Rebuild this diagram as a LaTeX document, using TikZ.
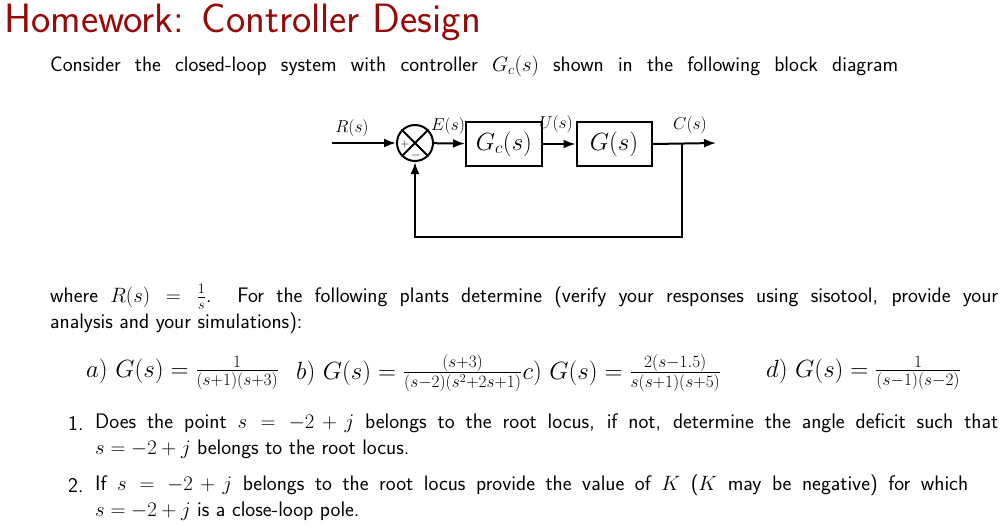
\documentclass[tikz,border=0pt]{standalone}
\usepackage{amsmath}
\usetikzlibrary{arrows.meta}
\definecolor{titlered}{RGB}{150,10,10}
\begin{document}
\begin{tikzpicture}[x=1pt,y=-1pt,
  blk/.style={draw,line width=2pt,minimum width=76pt,minimum height=44pt,inner sep=0pt,font=\fontsize{24}{26}\selectfont},
  sig/.style={line width=2pt,-{Latex[length=12pt,width=9pt]}},
  lbl/.style={font=\fontsize{16}{18}\selectfont,inner sep=0pt},
  txt/.style={anchor=west,inner sep=0pt,font=\fontsize{21}{23}\sffamily\selectfont},
  eqn/.style={anchor=west,inner sep=0pt,font=\fontsize{25}{27}\selectfont}]
\useasboundingbox (0,0) rectangle (1004,525);
\node[anchor=west,inner sep=0pt,text=titlered,font=\fontsize{41}{43}\sffamily\selectfont] (title) at (4,22) {Homework: Controller Design};
\node[txt] (l1) at (50,66) {\hbox to 848pt{Consider the closed-loop system with controller $G_c(s)$ shown in the following block diagram}};
% block diagram
\node[circle,draw,line width=2pt,minimum size=36pt,inner sep=0pt] (sum) at (415,143) {};
\draw[line width=2pt] (sum.north west) -- (sum.south east) (sum.north east) -- (sum.south west);
\node[lbl,font=\fontsize{13}{14}\selectfont] (plus) at (405,144) {$+$};
\node[lbl,font=\fontsize{13}{14}\selectfont] (minus) at (416,155) {$-$};
\node[blk] (gc) at (504,144) {$G_c(s)$};
\node[blk,minimum width=75pt] (g) at (614,144) {$G(s)$};
\coordinate (in) at (332,143);
\coordinate (out) at (716,143);
\coordinate (br) at (682,143);
\coordinate (fb1) at (682,237);
\coordinate (fb2) at (415,237);
\draw[sig] (in) -- (sum);
\draw[sig] (sum) -- (gc);
\draw[sig] (gc) -- (g);
\draw[sig] (g.east) -- (out);
\draw[sig] (br) -- (fb1) -- (fb2) -- (sum.south);
\node[lbl] (rs) at (352,128) {$R(s)$};
\node[lbl] (es) at (448,126) {$E(s)$};
\node[lbl] (us) at (556,124) {$U(s)$};
\node[lbl] (cs) at (690,125) {$C(s)$};
% text
\node[txt] (l2) at (50,297) {\hbox to 948pt{where $R(s)=\frac{1}{s}$. For the following plants determine (verify your responses using sisotool, provide your}};
\node[txt] (l3) at (50,323) {analysis and your simulations):};
\node[eqn] (ea) at (86,373) {$a)\ G(s)=\frac{1}{(s+1)(s+3)}$};
\node[eqn] (eb) at (296,373) {$b)\ G(s)=\frac{(s+3)}{(s-2)(s^2+2s+1)}$};
\node[eqn] (ec) at (eb.east) [anchor=west] {$c)\ G(s)=\frac{2(s-1.5)}{s(s+1)(s+5)}$};
\node[eqn] (ed) at (766,373) {$d)\ G(s)=\frac{1}{(s-1)(s-2)}$};
\node[txt] (n1) at (68,423) {1.};
\node[txt] (i1a) at (95,423) {\hbox to 903pt{Does the point $s=-2+j$ belongs to the root locus, if not, determine the angle deficit such that}};
\node[txt] (i1b) at (95,449) {$s=-2+j$ belongs to the root locus.};
\node[txt] (n2) at (68,485) {2.};
\node[txt] (i2a) at (95,485) {\hbox to 873pt{If $s=-2+j$ belongs to the root locus provide the value of $K$ ($K$ may be negative) for which}};
\node[txt] (i2b) at (95,511) {$s=-2+j$ is a close-loop pole.};
\end{tikzpicture}
\end{document}
